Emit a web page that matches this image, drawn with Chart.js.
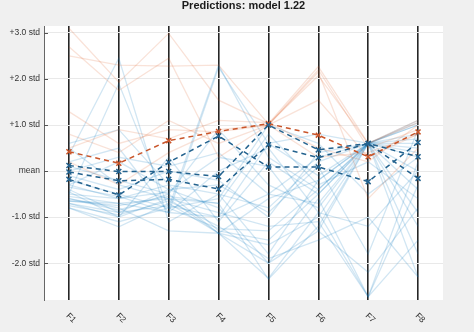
<!DOCTYPE html>
<html lang="en">
<head>
  <meta charset="UTF-8">
  <title>Predictions: model 1.22</title>
  <script src="https://cdn.jsdelivr.net/npm/chart.js"></script>
  <style>
    body { margin: 0; background: #f0f0f0; }
    .chart-container { width: 474px; height: 332px; }
  </style>
</head>
<body>

<div class="chart-container">
  <canvas id="parallelChart" width="474" height="332"></canvas>
</div>

<script>
  // features on the x axis
  const features = ['F1', 'F2', 'F3', 'F4', 'F5', 'F6', 'F7', 'F8'];

  // y ticks (in std units) and their labels
  const yTickValues = [-2, -1, 0, 1, 2, 3];
  const yTickLabels = ['-2.0 std', '-1.0 std', 'mean', '+1.0 std', '+2.0 std', '+3.0 std'];

  // group means (dashed lines with x markers)
  const meanOrange = [0.42, 0.17, 0.66, 0.86, 1.03, 0.78, 0.31, 0.85];
  const meanBlueA = [0.12, -0.01, -0.01, -0.12, 1.0, 0.46, 0.6, 0.31];
  const meanBlueB = [-0.02, -0.21, -0.18, -0.39, 0.57, 0.29, 0.6, -0.16];
  const meanBlueC = [-0.18, -0.52, 0.19, 0.76, 0.09, 0.09, -0.23, 0.62];

  // individual observations, orange group
  const orangeRows = [
    [3.1, 1.93, 2.99, 1.54, 1.03, 2.27, 0.6, 1.1],
    [2.7, 1.75, 2.45, 0.3, 1.0, 2.2, 0.5, 0.9],
    [2.5, 2.3, 2.28, 2.3, 1.02, 2.07, 0.6, 1.05],
    [1.29, 0.6, 0.9, 0.85, 1.0, 1.54, 0.3, 0.8],
    [0.5, 0.9, 0.7, 1.1, 1.05, 0.5, 0.2, 1.0],
    [0.8, 0.4, 1.1, 0.6, 1.0, 2.15, -0.6, 0.5],
    [0.2, -0.3, 0.4, 0.9, 1.0, 0.3, 0.4, 0.8]
  ];

  // individual observations, blue group
  const blueRows = [
    [0.35, 2.45, -1.1, -0.5, -0.8, 0.2, 0.6, 0.3],
    [-0.5, 1.9, -0.8, 2.3, 0.3, -0.4, 0.6, 1.05],
    [-0.65, -0.7, -0.9, 2.25, 0.6, -0.1, 0.6, 1.0],
    [-0.7, -1.0, -0.6, -1.35, -2.0, -1.3, 0.6, 1.1],
    [-0.8, -1.21, -0.7, -1.35, -2.33, -0.9, -2.73, 0.2],
    [-0.3, -0.6, -0.3, -1.3, -1.5, -0.5, 0.6, -2.3],
    [0.2, 0.5, -0.9, -1.0, 0.6, 0.8, 0.6, -1.8],
    [-0.4, -0.9, -0.4, -0.8, -2.0, -0.6, -2.73, -0.3],
    [0.0, 0.3, 0.1, 0.4, -0.5, 0.3, 0.6, 0.0],
    [-0.55, -0.7, -0.6, -0.9, -1.2, -1.1, -2.73, -1.5],
    [-0.6, -0.8, -1.3, -1.35, -0.6, -0.2, 0.6, 0.4],
    [-0.75, -0.95, -0.65, -1.2, -1.9, -1.5, -1.0, -2.3],
    [0.1, -0.2, -0.5, 0.9, -0.3, -0.8, 0.6, 0.7],
    [-0.2, -0.5, -0.8, -0.6, 1.0, 0.6, -0.5, 0.3],
    [-0.45, -1.0, 0.3, -1.1, 0.2, -0.5, 0.6, -0.9],
    [-0.3, 0.2, -0.4, -0.3, -0.9, 0.1, -1.8, 0.9],
    [-0.6, -0.85, -0.5, -1.35, -1.6, -1.0, 0.6, 1.0],
    [0.5, -0.3, -0.6, -0.7, 0.8, -0.3, 0.2, -0.6],
    [-0.7, -0.9, -0.75, -1.0, -0.5, -0.7, 0.6, 0.6],
    [-0.1, -0.4, 0.0, -0.2, -1.0, 0.4, 0.6, -1.2],
    [-0.5, -0.6, -0.45, 0.3, 0.1, -1.3, -2.2, -0.8],
    [-0.8, -1.1, -0.8, -1.25, -1.3, -0.4, 0.6, 0.5],
    [0.6, 0.9, -0.3, -0.5, -1.8, -0.2, 0.6, -0.4],
    [-0.35, -0.55, -0.9, 0.0, 0.5, -0.9, -1.2, 0.0],
    [-0.65, -0.75, -0.55, -0.7, -2.35, -1.2, 0.6, 0.8]
  ];

  const toPoints = vals => vals.map((v, i) => ({ x: i + 1, y: v }));

  const datasets = [];

  // faint lines first (drawn underneath because of higher order)
  blueRows.forEach(row => datasets.push({
    data: toPoints(row),
    borderColor: 'rgba(0, 114, 189, 0.18)',
    borderWidth: 1.3,
    pointRadius: 0,
    order: 2
  }));
  orangeRows.forEach(row => datasets.push({
    data: toPoints(row),
    borderColor: 'rgba(217, 83, 25, 0.17)',
    borderWidth: 1.3,
    pointRadius: 0,
    order: 1
  }));

  // dashed mean lines on top
  const meanLine = (vals, color) => ({
    data: toPoints(vals),
    borderColor: color,
    borderWidth: 1.5,
    borderDash: [5, 4],
    pointStyle: 'crossRot',
    pointRadius: 3.5,
    pointBorderWidth: 1.5,
    pointBorderColor: color,
    order: 0
  });
  datasets.push(meanLine(meanBlueA, '#23628e'));
  datasets.push(meanLine(meanBlueB, '#23628e'));
  datasets.push(meanLine(meanBlueC, '#23628e'));
  datasets.push(meanLine(meanOrange, '#c9552a'));

  // gray figure background, title, rotated x labels and inward y ticks
  const matlabLook = {
    id: 'matlabLook',
    beforeDraw(chart) {
      const { ctx, chartArea: a } = chart;
      ctx.save();
      ctx.fillStyle = '#f0f0f0';
      ctx.fillRect(0, 0, chart.width, chart.height);
      ctx.fillStyle = '#ffffff';
      ctx.fillRect(a.left, a.top, a.right - a.left, a.bottom - a.top);
      ctx.restore();
    },
    afterDraw(chart) {
      const { ctx, chartArea: a } = chart;
      const xs = chart.scales.x;
      const ys = chart.scales.y;
      ctx.save();

      // title
      ctx.fillStyle = '#1a1a1a';
      ctx.font = 'bold 11px "Liberation Sans", Arial, sans-serif';
      ctx.textAlign = 'center';
      ctx.textBaseline = 'middle';
      ctx.fillText('Predictions: model 1.22', (a.left + a.right) / 2, 6);

      // x labels, rotated clockwise
      ctx.fillStyle = '#333';
      ctx.font = '8.5px "Liberation Sans", Arial, sans-serif';
      features.forEach((f, i) => {
        const px = xs.getPixelForValue(i + 1);
        ctx.save();
        ctx.translate(px + 2, a.bottom + 18);
        ctx.rotate(Math.PI / 4);
        ctx.fillText(f, 0, 0);
        ctx.restore();
      });

      // short inward tick marks on the left axis
      ctx.strokeStyle = '#555';
      ctx.lineWidth = 1;
      yTickValues.forEach(v => {
        const py = Math.round(ys.getPixelForValue(v)) + 0.5;
        ctx.beginPath();
        ctx.moveTo(a.left, py);
        ctx.lineTo(a.left + 4, py);
        ctx.stroke();
      });
      ctx.restore();
    }
  };

  const ctx = document.getElementById('parallelChart').getContext('2d');
  new Chart(ctx, {
    type: 'line',
    data: { datasets: datasets },
    options: {
      responsive: false,
      animation: false,
      layout: { padding: { top: 26, right: 31, left: 0, bottom: 0 } },
      scales: {
        x: {
          type: 'linear',
          min: 0.5,
          max: 8.5,
          afterBuildTicks: scale => {
            scale.ticks = features.map((f, i) => ({ value: i + 1 }));
          },
          afterFit: scale => { scale.height = 32; },
          ticks: { display: false },
          grid: { color: '#262626', lineWidth: 1.6, drawTicks: false },
          border: { display: false }
        },
        y: {
          min: -2.8,
          max: 3.15,
          afterBuildTicks: scale => {
            scale.ticks = yTickValues.map(v => ({ value: v }));
          },
          afterFit: scale => { scale.width = 44; },
          ticks: {
            padding: 4,
            color: '#333',
            font: { size: 8.5, family: '"Liberation Sans", Arial, sans-serif' },
            callback: value => yTickLabels[yTickValues.indexOf(value)]
          },
          grid: { color: '#e9e9e9', lineWidth: 1, drawTicks: false },
          border: { display: true, color: '#666', width: 1 }
        }
      },
      plugins: {
        legend: { display: false },
        tooltip: { enabled: false }
      }
    },
    plugins: [matlabLook]
  });
</script>

</body>
</html>
